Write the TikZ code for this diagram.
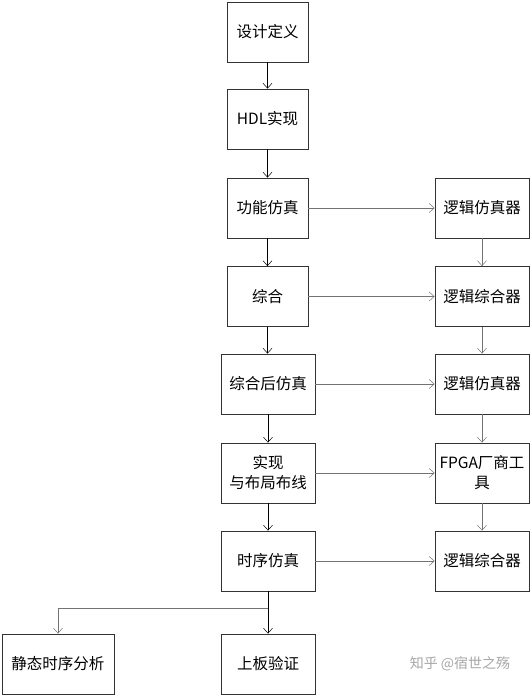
\documentclass[tikz,border=0pt]{standalone}
\usepackage{fontspec}
\newfontfamily\cjk{Noto Sans CJK SC}
\usepackage{tikz}
\usetikzlibrary{arrows.meta}

\begin{document}
\begin{tikzpicture}[x=1pt,y=-1pt,
                    font=\cjk\fontsize{15.5}{20}\selectfont,
                    box/.style={draw=black!80,line width=0.8pt,minimum height=60pt,inner sep=0pt,align=center},
                    narrow/.style={box,minimum width=81pt},
                    wide/.style={box,minimum width=94pt},
                    arr/.style={-{Straight Barb[length=5pt,width=9pt,line width=0.5pt]},line width=0.8pt},
                    garr/.style={arr,draw=black!55}]
        \useasboundingbox (0,0) rectangle (532,697);
        % flow steps
        \node[narrow] (spec) at (267.5,32) {设计定义};
        \node[narrow] (hdl) at (267.5,119) {HDL实现};
        \node[narrow] (funcsim) at (267.5,208) {功能仿真};
        \node[narrow] (synth) at (267.5,296.5) {综合};
        \node[wide] (postsim) at (268,384) {综合后仿真};
        \node[wide] (impl) at (268,473) {实现\\与布局布线};
        \node[wide] (timesim) at (268,561) {时序仿真};
        \node[wide,minimum width=112pt] (sta) at (58,664) {静态时序分析};
        \node[wide] (board) at (268,664) {上板验证};
        % tools
        \node[wide] (tool1) at (482,208) {逻辑仿真器};
        \node[wide] (tool2) at (482,296.5) {逻辑综合器};
        \node[wide] (tool3) at (482,384) {逻辑仿真器};
        \node[wide] (tool4) at (482,473) {FPGA厂商工\\具};
        \node[wide] (tool5) at (482,561) {逻辑综合器};
        \node[text=black!35,font=\cjk\fontsize{14}{16}\selectfont] (mark) at (460,664) {知乎 @宿世之殇};

        \foreach \a/\b in {spec/hdl,hdl/funcsim,funcsim/synth,synth/postsim,postsim/impl,impl/timesim,timesim/board}
                \draw[arr] (\a.south) -- (\a.south |- \b.north);
        \foreach \a/\b in {funcsim/tool1,synth/tool2,postsim/tool3,impl/tool4,timesim/tool5}
                \draw[garr] (\a) -- (\b);
        \foreach \a/\b in {tool1/tool2,tool2/tool3,tool3/tool4,tool4/tool5}
                \draw[garr] (\a) -- (\b);
        \coordinate (fork) at (268,608);
        \draw[garr] (fork) -| (sta.north);
\end{tikzpicture}
\end{document}
